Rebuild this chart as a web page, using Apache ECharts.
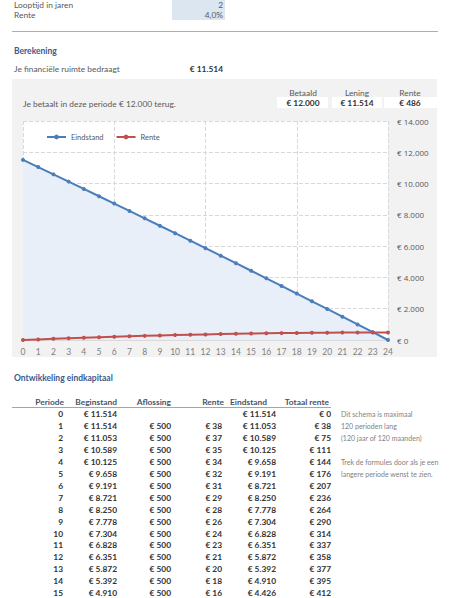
<!DOCTYPE html>
<html>
<head>
<meta charset="utf-8">
<script src="https://cdn.jsdelivr.net/npm/echarts@6/dist/echarts.min.js"></script>
<style>
  html, body { margin:0; padding:0; background:#fff; }
  body { width:450px; height:598px; position:relative; overflow:hidden; font-family: Lato, "Liberation Sans", sans-serif; }
  .t { position:absolute; white-space:nowrap; font-size:8.4px; color:#595959; line-height:8px; }
  .b { font-weight:bold; color:#333; }
  .h { font-weight:bold; color:#3a5a8a; font-size:8.5px; }
  .th { font-weight:bold; color:#44546a; }
  .n { font-size:7px; color:#7f7f7f; }
  .box { position:absolute; }
  #chart { position:absolute; left:0; top:0; width:450px; height:598px; z-index:5; }
</style>
</head>
<body>
<div class="box" style="left:172px;top:0;width:53px;height:20px;background:#dce6f1;"></div>
<div class="box" style="left:12px;top:31px;width:426px;height:1px;background:#95b3d7;"></div>
<div class="box" style="left:12px;top:79px;width:425px;height:278px;background:#f2f2f2;"></div>
<div class="box" style="left:277px;top:97px;width:51px;height:11px;background:#fff;"></div>
<div class="box" style="left:332px;top:97px;width:50px;height:11px;background:#fff;"></div>
<div class="box" style="left:384px;top:97px;width:53px;height:11px;background:#fff;"></div>
<div class="box" style="left:12px;top:407px;width:319px;height:1px;background:#8eaacb;"></div>
<div id="chart"></div>
<script>
// ---- data ----
const periods = ['0','1','2','3','4','5','6','7','8','9','10','11','12','13','14','15','16','17','18','19','20','21','22','23','24'];
const eindstand = [11514,11053,10589,10125,9658,9191,8721,8250,7778,7304,6828,6351,5872,5392,4910,4426,3941,3454,2966,2476,1984,1491,996,499,0];
const totaalRente = [0,38,75,111,144,176,207,236,264,290,314,337,358,377,395,412,427,440,452,462,470,477,482,485,486];
const yTicks = [0,2000,4000,6000,8000,10000,12000,14000];

const tablePeriods = [0,1,2,3,4,5,6,7,8,9,10,11,12,13,14,15];
const beginstand = [11514,11514,11053,10589,10125,9658,9191,8721,8250,7778,7304,6828,6351,5872,5392,4910];
const aflossing = [null,500,500,500,500,500,500,500,500,500,500,500,500,500,500,500];
const renteRow = [null,38,37,35,34,32,31,29,28,26,24,23,21,20,18,16];
const tableHeaders = ['Periode','Beginstand','Aflossing','Rente','Eindstand','Totaal rente'];
const notes = ['Dit schema is maximaal','120 perioden lang','(120 jaar of 120 maanden)','','Trek de formules door als je een','langere periode wenst te zien.'];

const summaryLabels = ['Betaald','Lening','Rente'];
const summaryValues = [12000,11514,486];

// ---- helpers ----
function eur(v){ return '€ ' + String(Math.round(v)).replace(/\B(?=(\d{3})+(?!\d))/g,'.'); }
function txt(x, y, s, cls, align){
  const d = document.createElement('div');
  d.className = 't ' + (cls||'');
  d.textContent = s;
  d.style.left = x + 'px';
  d.style.top = y + 'px';
  let tx = '0';
  if (align === 'right') tx = '-100%';
  else if (align === 'center') tx = '-50%';
  d.style.transform = 'translate(' + tx + ',-50%)';
  document.body.appendChild(d);
}

// ---- sheet text ----
txt(14, 5, 'Looptijd in jaren');
txt(223, 5, '2', '', 'right');
txt(14, 15, 'Rente');
txt(223, 15, '4,0%', '', 'right');
txt(14, 51, 'Berekening', 'h');
txt(14, 69, 'Je financiële ruimte bedraagt');
txt(223, 69, eur(11514), 'b', 'right');
const sumX = [303, 357, 410];
summaryLabels.forEach((l,i)=>{ txt(sumX[i], 93, l, '', 'center'); txt(sumX[i], 102.5, eur(summaryValues[i]), 'b', 'center'); });
txt(23, 104, 'Je betaalt in deze periode € 12.000 terug.');

txt(14, 378, 'Ontwikkeling eindkapitaal', 'h');
const colRight = [64, 117, 171, 224, 267, 329];
tableHeaders.forEach((h,i)=> txt(colRight[i], 402, h, 'th', 'right'));
const valRight = [63, 117, 171, 222, 276, 331];
tablePeriods.forEach((p,i)=>{
  const y = 414 + i*11.95;
  txt(valRight[0], y, String(p), 'b', 'right');
  txt(valRight[1], y, eur(beginstand[i]), 'b', 'right');
  if (aflossing[i] !== null) txt(valRight[2], y, eur(aflossing[i]), 'b', 'right');
  if (renteRow[i] !== null) txt(valRight[3], y, eur(renteRow[i]), 'b', 'right');
  txt(valRight[4], y, eur(eindstand[i]), 'b', 'right');
  txt(valRight[5], y, eur(totaalRente[i]), 'b', 'right');
  if (notes[i]) txt(341, y, notes[i], 'n');
});

// ---- chart ----
const chart = echarts.init(document.getElementById('chart'), null, {renderer:'svg'});
const ff = 'Lato, "Liberation Sans", sans-serif';
chart.setOption({
  backgroundColor: 'transparent',
  animation: false,
  textStyle: { fontFamily: ff },
  legend: {
    left: 41, top: 128, itemWidth: 19, itemHeight: 6, itemGap: 12,
    textStyle: { fontSize: 7.5, color: '#595959', fontFamily: ff },
    data: ['Eindstand','Rente']
  },
  grid: { left: 23, right: 62, top: 121, bottom: 258, show: true, backgroundColor: '#ffffff', borderWidth: 0 },
  xAxis: {
    type: 'category', data: periods, boundaryGap: false,
    axisLine: { lineStyle: { color: '#d9d9d9' } },
    axisTick: { show: false },
    axisLabel: { interval: 0, fontSize: 8.5, color: '#7f7f7f', margin: 7, fontFamily: ff },
    splitLine: { show: true, interval: (i)=> i % 6 === 0, lineStyle: { type: 'dashed', color: '#d9d9d9' } }
  },
  yAxis: {
    type: 'value', position: 'right', min: yTicks[0], max: yTicks[yTicks.length-1], interval: 2000,
    axisLine: { show: false }, axisTick: { show: false },
    axisLabel: { formatter: (v)=> eur(v), fontSize: 8, color: '#595959', margin: 9, fontFamily: '"Open Sans", sans-serif' },
    splitLine: { lineStyle: { type: 'dashed', color: '#d9d9d9' } }
  },
  series: [
    { name: 'Eindstand', type: 'line', data: eindstand, symbol: 'circle', symbolSize: 4,
      itemStyle: { color: '#4a7ebb' }, lineStyle: { width: 2, color: '#4a7ebb' },
      areaStyle: { color: '#e9eff8', opacity: 1 } },
    { name: 'Rente', type: 'line', data: totaalRente, symbol: 'circle', symbolSize: 4, z: 3,
      itemStyle: { color: '#c0504d' }, lineStyle: { width: 2, color: '#c0504d' } }
  ]
});
</script>
</body>
</html>
